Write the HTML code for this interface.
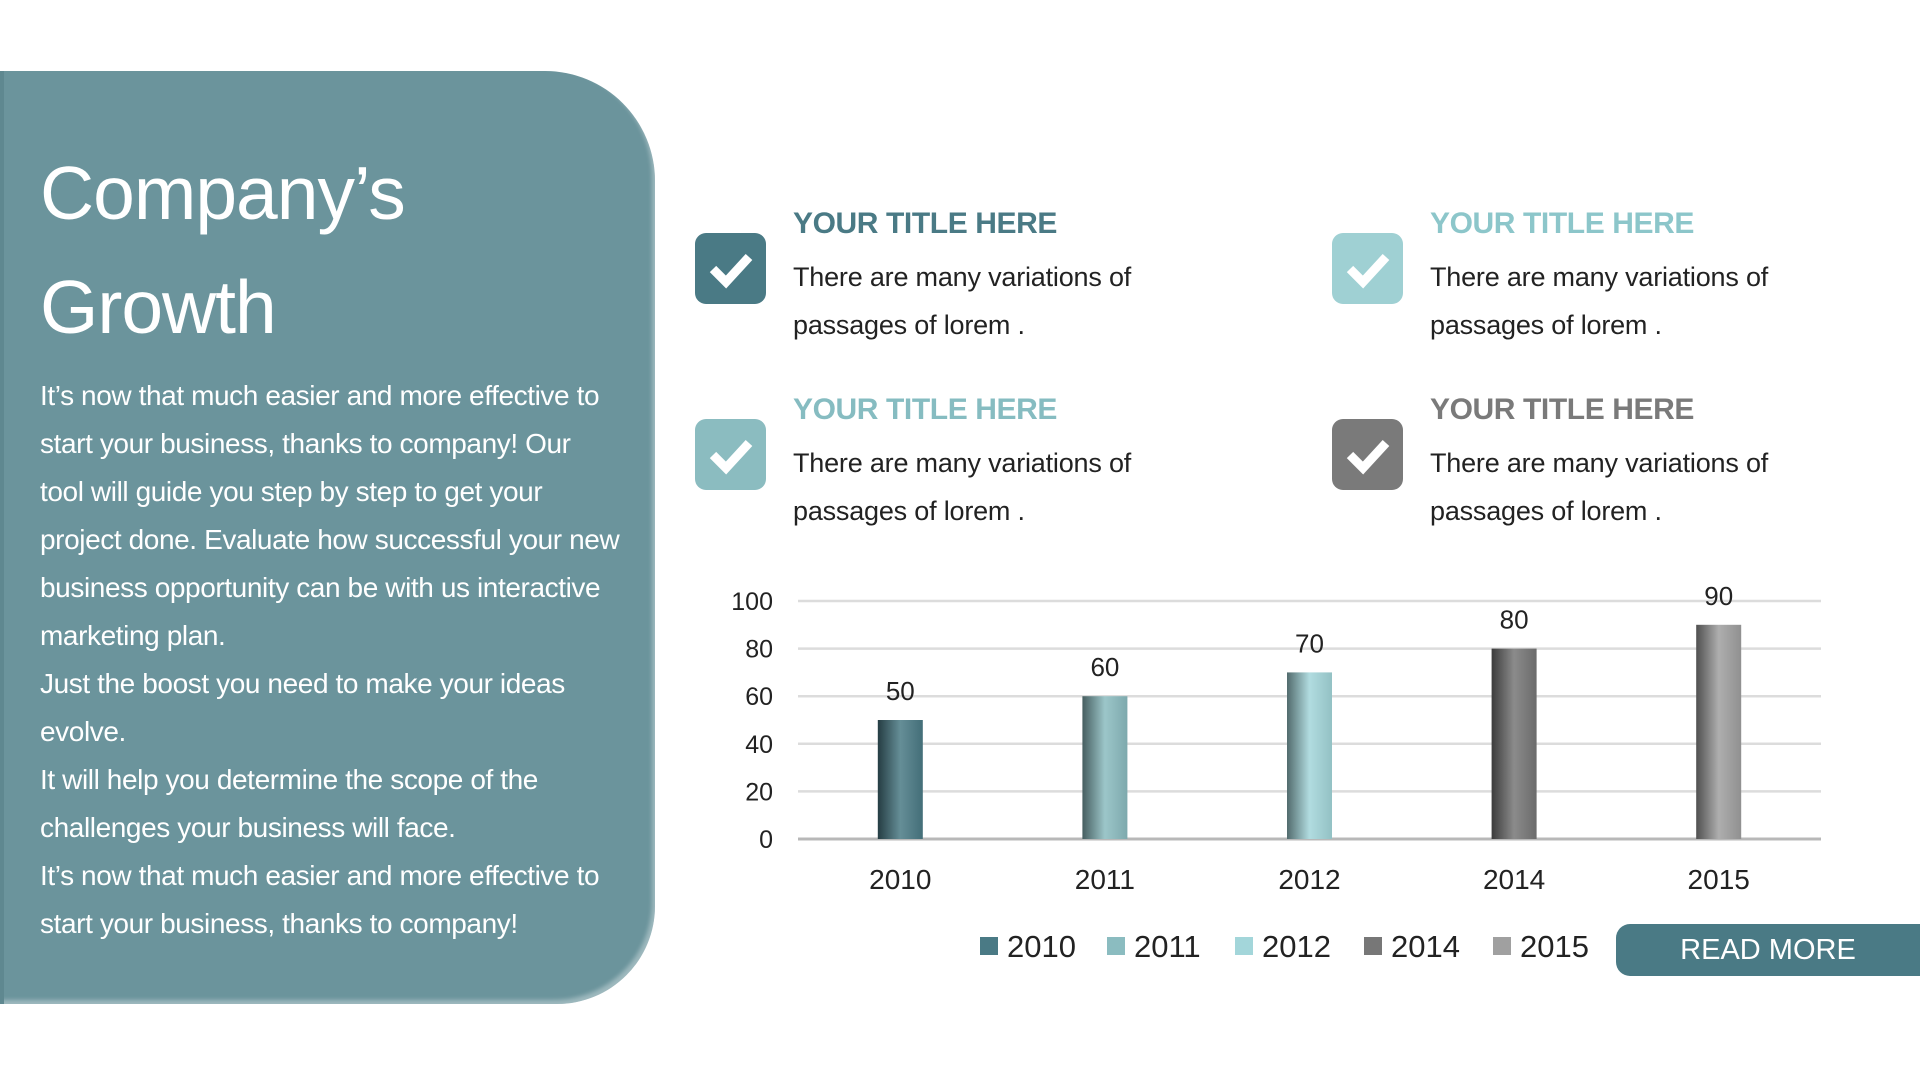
<!DOCTYPE html>
<html><head><meta charset="utf-8">
<style>
body{margin:0;width:1920px;height:1080px;background:#fff;overflow:hidden;position:relative;font-family:"Liberation Sans",sans-serif;}
.panel{position:absolute;left:0;top:71px;width:655px;height:933px;background:#6b949c;border-radius:0 110px 98px 0;box-shadow:inset 4px 0 0 #5f8890, inset -3px -4px 4px rgba(255,255,255,0.35);}
.h1{position:absolute;left:40px;color:#fff;font-size:75px;letter-spacing:-1px;}
.body{position:absolute;left:40px;top:372px;width:640px;color:#fff;font-size:28px;line-height:48px;letter-spacing:-0.4px;white-space:nowrap;}
.cb{position:absolute;width:71px;height:71px;border-radius:11px;}
.cb svg{position:absolute;left:0;top:0}
.t{position:absolute;font-weight:bold;font-size:30px;letter-spacing:-0.4px;}
.d{position:absolute;font-size:27px;line-height:48px;color:#222;letter-spacing:-0.2px;}
.btn{position:absolute;left:1616px;top:924px;width:304px;height:52px;background:#4a7a85;border-radius:14px 0 0 14px;color:#fff;font-size:29px;text-align:center;line-height:52px;}
</style></head><body>
<div class="panel"></div>
<div class="h1" style="top:150px">Company’s</div>
<div class="h1" style="top:264px">Growth</div>
<div class="body">It’s now that much easier and more effective to<br>start your business, thanks to company! Our<br>tool will guide you step by step to get your<br>project done. Evaluate how successful your new<br>business opportunity can be with us interactive<br>marketing plan.<br>Just the boost you need to make your ideas<br>evolve.<br>It will help you determine the scope of the<br>challenges your business will face.<br>It’s now that much easier and more effective to<br>start your business, thanks to company!</div>

<div class="cb" style="left:695px;top:233px;background:#4a7a85"><svg width="71" height="71"><path d="M18 36 L31 49 L54 24" stroke="#fff" stroke-width="9" fill="none"/></svg></div>
<div class="cb" style="left:1332px;top:233px;background:#9fd0d3"><svg width="71" height="71"><path d="M18 36 L31 49 L54 24" stroke="#fff" stroke-width="9" fill="none"/></svg></div>
<div class="cb" style="left:695px;top:419px;background:#8bbcc0"><svg width="71" height="71"><path d="M18 36 L31 49 L54 24" stroke="#fff" stroke-width="9" fill="none"/></svg></div>
<div class="cb" style="left:1332px;top:419px;background:#7a7a7a"><svg width="71" height="71"><path d="M18 36 L31 49 L54 24" stroke="#fff" stroke-width="9" fill="none"/></svg></div>

<div class="t" style="left:793px;top:207px;color:#4a7a85">YOUR TITLE HERE</div>
<div class="d" style="left:793px;top:253px">There are many variations of<br>passages of lorem .</div>
<div class="t" style="left:1430px;top:207px;color:#8cc6ca">YOUR TITLE HERE</div>
<div class="d" style="left:1430px;top:253px">There are many variations of<br>passages of lorem .</div>
<div class="t" style="left:793px;top:393px;color:#86bcc1">YOUR TITLE HERE</div>
<div class="d" style="left:793px;top:439px">There are many variations of<br>passages of lorem .</div>
<div class="t" style="left:1430px;top:393px;color:#7a7a7a">YOUR TITLE HERE</div>
<div class="d" style="left:1430px;top:439px">There are many variations of<br>passages of lorem .</div>

<svg id="chart" width="1920" height="1080" style="position:absolute;left:0;top:0">
<defs id="defs"></defs>
</svg>
<div class="btn">READ MORE</div>
<script>
const categories=["2010","2011","2012","2014","2015"];
const values=[50,60,70,80,90];
const ticks=[0,20,40,60,80,100];
const colors=["#4a7a85","#8bbcc0","#a3d6da","#777777","#a0a0a0"];
const NS="http://www.w3.org/2000/svg";
const svg=document.getElementById('chart');
const defs=document.getElementById('defs');
const x0=798,x1=1821,y0=839,yTop=601;
const band=(x1-x0)/categories.length;
function y(v){return y0-(v/100)*(y0-yTop);}
function xc(i){return x0+band*(i+0.5);}
function mk(tag,attrs){const e=document.createElementNS(NS,tag);for(const k in attrs)e.setAttribute(k,attrs[k]);return e;}
function shade(hex,f){const n=parseInt(hex.slice(1),16);let r=n>>16,g=(n>>8)&255,b=n&255;
 const c=v=>Math.max(0,Math.min(255,Math.round(f<0?v*(1+f):v+(255-v)*f)));return `rgb(${c(r)},${c(g)},${c(b)})`;}
ticks.forEach(t=>{
 const l=mk('line',{x1:x0,x2:x1,y1:y(t),y2:y(t),stroke:t===0?'#b8b8b8':'#dcdcdc','stroke-width':t===0?3:2.5});
 
 
 svg.appendChild(l);
 const tx=mk('text',{x:773,y:y(t)+9,'text-anchor':'end','font-size':25,fill:'#222','font-family':'Liberation Sans, sans-serif'});
 tx.textContent=t;
 
 
 svg.appendChild(tx);
});
categories.forEach((c,i)=>{
 const g=mk('linearGradient',{id:'g'+i,x1:0,x2:1,y1:0,y2:0});
 [[0,shade(colors[i],-0.5)],[0.5,shade(colors[i],0.15)],[1,shade(colors[i],-0.1)]].forEach(s=>g.appendChild(mk('stop',{offset:s[0],'stop-color':s[1]})));
 defs.appendChild(g);
 const w=45,cx=xc(i);
 const r=mk('rect',{x:cx-w/2,y:y(values[i]),width:w,height:y0-y(values[i]),fill:'url(#g'+i+')'});
 
 
 svg.appendChild(r);
 const v=mk('text',{x:cx,y:y(values[i])-20,'text-anchor':'middle','font-size':26,fill:'#222','font-family':'Liberation Sans, sans-serif'});
 v.textContent=values[i];
 
 
 svg.appendChild(v);
 const xl=mk('text',{x:cx,y:889,'text-anchor':'middle','font-size':28,fill:'#222','font-family':'Liberation Sans, sans-serif'});
 xl.textContent=c;
 
 
 svg.appendChild(xl);
});
const legX=[980,1107,1235,1364,1493];
categories.forEach((c,i)=>{
 const sq=mk('rect',{x:legX[i],y:937,width:18,height:18,fill:colors[i]});
 
 
 svg.appendChild(sq);
 const t=mk('text',{x:legX[i]+27,y:957,'font-size':31,fill:'#222','font-family':'Liberation Sans, sans-serif'});
 t.textContent=c;
 
 
 svg.appendChild(t);
});
</script>
</body></html>
